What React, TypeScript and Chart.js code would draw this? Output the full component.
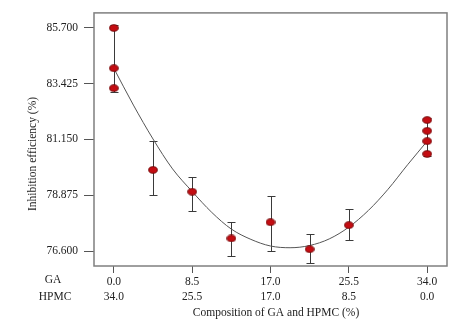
import React, { useEffect, useRef } from 'react';
import { Chart, registerables } from 'chart.js';

Chart.register(...registerables);

// Observed replicate points (GA %, inhibition efficiency %)
const pointGA = [0, 0, 0, 4.25, 8.5, 12.75, 17, 21.25, 25.5, 34, 34, 34, 34];
const pointIE = [85.69, 84.05, 83.24, 79.91, 79.02, 77.12, 77.78, 76.68, 77.66, 81.94, 81.5, 81.08, 80.56];

// Error bars
const errGA = [0, 4.25, 8.5, 12.75, 17, 21.25, 25.5, 34];
const errLow = [83.08, 78.88, 78.22, 76.4, 76.6, 76.13, 77.06, 80.49];
const errHigh = [85.8, 81.1, 79.62, 77.78, 78.83, 77.3, 78.32, 82.04];

// Fitted curve
const fitGA = [0, 2.125, 4.25, 6.375, 8.5, 10.625, 12.75, 14.875, 17, 19.125, 21.25, 23.375, 25.5, 27.625, 29.75, 31.875, 34];
const fitIE = [84.05, 82.55, 81.17, 79.95, 79.03, 78.18, 77.5, 77.08, 76.81, 76.74, 76.83, 77.1, 77.58, 78.26, 79.12, 80.12, 81.08];

// Axis ticks
const xTicks = [0, 8.5, 17, 25.5, 34];
const gaLabels = ['0.0', '8.5', '17.0', '25.5', '34.0'];
const hpmcLabels = ['34.0', '25.5', '17.0', '8.5', '0.0'];
const yTicks = [76.6, 78.875, 81.15, 83.425, 85.7];
const yTickLabels = ['76.600', '78.875', '81.150', '83.425', '85.700'];

const FONT = "'Liberation Serif', 'Times New Roman', serif";
const TEXT = '#222222';

function makeMarker(): HTMLCanvasElement {
  const c = document.createElement('canvas');
  c.width = 10;
  c.height = 8;
  const g = c.getContext('2d')!;
  g.beginPath();
  g.ellipse(5, 4, 4.3, 3.3, 0, 0, Math.PI * 2);
  g.fillStyle = '#c40d12';
  g.fill();
  g.lineWidth = 0.9;
  g.strokeStyle = '#6e0808';
  g.stroke();
  return c;
}

const decor = {
  id: 'decor',
  beforeDatasetsDraw(chart: any) {
    const { ctx, scales } = chart;
    const x = scales.x;
    const y = scales.y;
    ctx.save();
    ctx.strokeStyle = '#3a3a3a';
    ctx.lineWidth = 1;
    errGA.forEach((g, i) => {
      const px = Math.round(x.getPixelForValue(g)) + 0.5;
      const top = Math.round(y.getPixelForValue(errHigh[i])) + 0.5;
      const bot = Math.round(y.getPixelForValue(errLow[i])) + 0.5;
      ctx.beginPath();
      ctx.moveTo(px, top);
      ctx.lineTo(px, bot);
      ctx.moveTo(px - 4, top);
      ctx.lineTo(px + 4, top);
      ctx.moveTo(px - 4, bot);
      ctx.lineTo(px + 4, bot);
      ctx.stroke();
    });
    ctx.restore();
  },
  afterDraw(chart: any) {
    const { ctx, chartArea } = chart;
    ctx.save();
    ctx.strokeStyle = '#7f7f7f';
    ctx.lineWidth = 1.5;
    ctx.strokeRect(chartArea.left, chartArea.top, chartArea.right - chartArea.left, chartArea.bottom - chartArea.top);

    ctx.fillStyle = TEXT;
    ctx.font = `11.5px ${FONT}`;
    ctx.textAlign = 'center';
    ctx.textBaseline = 'middle';
    ctx.fillText('GA', 53, 280);
    ctx.fillText('HPMC', 55, 296.7);
    ctx.fillText('Composition of GA and HPMC (%)', 276, 312.7);

    ctx.translate(33, 154);
    ctx.rotate(-Math.PI / 2);
    ctx.fillText('Inhibition efficiency (%)', 0, 0);
    ctx.restore();
  },
};

export default function App() {
  const ref = useRef<HTMLCanvasElement | null>(null);

  useEffect(() => {
    if (!ref.current) return;
    const marker = makeMarker();
    const chart = new Chart(ref.current, {
      type: 'scatter',
      data: {
        datasets: [
          {
            label: 'Observed',
            data: pointGA.map((g, i) => ({ x: g, y: pointIE[i] })),
            pointStyle: marker as any,
            pointRadius: 4,
            pointHoverRadius: 4,
            showLine: false,
            order: 0,
          },
          {
            label: 'Fit',
            type: 'line',
            data: fitGA.map((g, i) => ({ x: g, y: fitIE[i] })),
            borderColor: '#555555',
            borderWidth: 1,
            pointRadius: 0,
            fill: false,
            cubicInterpolationMode: 'monotone',
            order: 1,
          } as any,
        ],
      },
      plugins: [decor],
      options: {
        responsive: false,
        animation: false,
        events: [],
        layout: { padding: { left: 0, top: 10, right: 27, bottom: 0 } },
        plugins: {
          legend: { display: false },
          tooltip: { enabled: false },
        },
        scales: {
          x: {
            type: 'linear',
            min: -2.15,
            max: 36.15,
            afterBuildTicks: (s: any) => {
              s.ticks = xTicks.map((v) => ({ value: v }));
            },
            afterFit: (s: any) => {
              s.height = 59;
            },
            ticks: {
              autoSkip: false,
              maxRotation: 0,
              padding: 1.2,
              color: TEXT,
              font: { family: FONT, size: 11.5, lineHeight: '15px' } as any,
              callback: (v: any) => {
                const i = xTicks.indexOf(Number(v));
                return [gaLabels[i], hpmcLabels[i]];
              },
            },
            grid: {
              drawOnChartArea: false,
              drawTicks: true,
              tickLength: 7,
              color: '#555555',
              lineWidth: 1,
            },
            border: { display: false },
          },
          y: {
            type: 'linear',
            min: 75.996,
            max: 86.304,
            afterBuildTicks: (s: any) => {
              s.ticks = yTicks.map((v) => ({ value: v }));
            },
            afterFit: (s: any) => {
              s.width = 94;
            },
            ticks: {
              autoSkip: false,
              padding: 6,
              color: TEXT,
              font: { family: FONT, size: 11.5 },
              callback: (v: any) => {
                const i = yTicks.indexOf(Number(v));
                return yTickLabels[i];
              },
            },
            grid: {
              drawOnChartArea: false,
              drawTicks: true,
              tickLength: 10,
              color: '#555555',
              lineWidth: 1,
            },
            border: { display: false },
          },
        },
      },
    });
    return () => chart.destroy();
  }, []);

  return (
    <div style={{ position: 'fixed', left: 0, top: 0, width: 474, height: 325, background: '#ffffff' }}>
      <canvas ref={ref} width={474} height={325} style={{ display: 'block' }} />
    </div>
  );
}
